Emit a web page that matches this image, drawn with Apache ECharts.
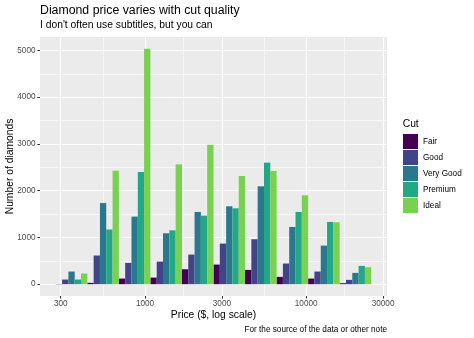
<!DOCTYPE html>
<html>
<head>
<meta charset="utf-8">
<script src="https://cdn.jsdelivr.net/npm/echarts@6/dist/echarts.min.js"></script>
<style>
html,body{margin:0;padding:0;background:#fff;}
#chart{width:474px;height:338px;}
</style>
</head>
<body>
<div id="chart"></div>
<script>
// Bin centres (log10 of price), one per histogram bin
var binCentersLog = [2.5444, 2.7401, 2.9358, 3.1315, 3.3272, 3.5230, 3.7187, 3.9144, 4.1101, 4.3058];
var cuts = ['Fair', 'Good', 'Very Good', 'Premium', 'Ideal'];
var fairCounts     = [5, 29, 121, 142, 320, 420, 306, 157, 121, 21];
var goodCounts     = [100, 614, 456, 484, 634, 869, 962, 442, 271, 93];
var veryGoodCounts = [271, 1736, 1446, 1090, 1546, 1667, 2094, 1225, 826, 242];
var premiumCounts  = [100, 1171, 2400, 1154, 1467, 1624, 2600, 1546, 1332, 392];
var idealCounts    = [229, 2429, 5036, 2564, 2984, 2315, 2422, 1902, 1325, 363];
var xTickPrices = [300, 1000, 3000, 10000, 30000];
var xMinorPrices = [547.7, 1732, 5477, 17320];
var yTicks = [0, 1000, 2000, 3000, 4000, 5000];
var yMinorTicks = [500, 1500, 2500, 3500, 4500];
var colors = ['#440154', '#414487', '#2A788E', '#22A884', '#7AD151'];

var allCounts = [fairCounts, goodCounts, veryGoodCounts, premiumCounts, idealCounts];
var FONT = '"Liberation Sans", Arial, Helvetica, sans-serif';
var xMin = 2.3486, xMax = 4.5016, yMin = -252, yMax = 5288;

var series = cuts.map(function (c, i) {
  return {
    name: c,
    type: 'bar',
    xAxisIndex: 0,
    yAxisIndex: 0,
    barGap: '0%',
    barCategoryGap: '0%',
    itemStyle: {color: colors[i]},
    data: binCentersLog.map(function (x, j) { return [x, allCounts[i][j]]; })
  };
});

var chart = echarts.init(document.getElementById('chart'), null, {renderer: 'canvas'});
chart.setOption({
  animation: false,
  backgroundColor: '#ffffff',
  textStyle: {fontFamily: FONT},
  title: [
    {text: 'Diamond price varies with cut quality', left: 40, top: 4.5, padding: 0,
     textStyle: {fontSize: 12.3, fontWeight: 'normal', color: '#000', fontFamily: FONT, lineHeight: 12.3}},
    {text: "I don't often use subtitles, but you can", left: 40, top: 20.5, padding: 0,
     textStyle: {fontSize: 10.3, fontWeight: 'normal', color: '#000', fontFamily: FONT, lineHeight: 10.3}},
    {text: 'For the source of the data or other note', right: 87, top: 325.5, padding: 0,
     textStyle: {fontSize: 8.2, fontWeight: 'normal', color: '#000', fontFamily: FONT, lineHeight: 8.2}},
    {text: 'Cut', left: 402.7, top: 119.5, padding: 0,
     textStyle: {fontSize: 10.3, fontWeight: 'normal', color: '#000', fontFamily: FONT, lineHeight: 10.3}}
  ],
  legend: {
    orient: 'vertical', left: 403, top: 134, padding: 0,
    itemWidth: 15, itemHeight: 15, itemGap: 1, icon: 'rect',
    selectedMode: false,
    data: cuts,
    textStyle: {fontSize: 8.2, color: '#000', fontFamily: FONT}
  },
  grid: {left: 40, right: 87, top: 37, bottom: 42, show: true, backgroundColor: '#EBEBEB', borderWidth: 0,
         containLabel: false, outerBoundsMode: 'none'},
  xAxis: [
    {
      type: 'value', min: xMin, max: xMax, position: 'bottom',
      name: 'Price ($, log scale)', nameLocation: 'middle', nameGap: 14.5, nameMoveOverlap: false,
      nameTextStyle: {fontSize: 10.3, color: '#000', fontFamily: FONT, verticalAlign: 'top', lineHeight: 10.3},
      axisLine: {show: false, onZero: false},
      axisTick: {show: true, length: 2.6, lineStyle: {color: '#333333', width: 1},
                 customValues: xTickPrices.map(function (p) { return Math.log10(p); })},
      axisLabel: {show: true, margin: 4, fontSize: 8.2, color: '#4D4D4D', fontFamily: FONT,
                  customValues: xTickPrices.map(function (p) { return Math.log10(p); }),
                  formatter: function (v) { return String(Math.round(Math.pow(10, v))); }},
      splitLine: {show: true, lineStyle: {color: '#FFFFFF', width: 1.2}}
    },
    {
      type: 'value', min: xMin, max: xMax, position: 'top',
      axisLine: {show: false, onZero: false},
      axisTick: {show: false, customValues: xMinorPrices.map(function (p) { return Math.log10(p); })},
      axisLabel: {show: false},
      splitLine: {show: true, lineStyle: {color: '#FFFFFF', width: 0.6}}
    }
  ],
  yAxis: [
    {
      type: 'value', min: yMin, max: yMax, position: 'left',
      name: 'Number of diamonds', nameLocation: 'middle', nameGap: 24.5, nameMoveOverlap: false,
      nameTextStyle: {fontSize: 10.3, color: '#000', fontFamily: FONT, lineHeight: 10.3},
      axisLine: {show: false, onZero: false},
      axisTick: {show: true, length: 2.6, lineStyle: {color: '#333333', width: 1}, customValues: yTicks},
      axisLabel: {show: true, margin: 4.5, fontSize: 8.2, color: '#4D4D4D', fontFamily: FONT, customValues: yTicks,
                  formatter: function (v) { return String(Math.round(v)); }},
      splitLine: {show: true, lineStyle: {color: '#FFFFFF', width: 1.2}}
    },
    {
      type: 'value', min: yMin, max: yMax, position: 'right',
      axisLine: {show: false, onZero: false},
      axisTick: {show: false, customValues: yMinorTicks},
      axisLabel: {show: false},
      splitLine: {show: true, lineStyle: {color: '#FFFFFF', width: 0.6}}
    }
  ],
  series: series
});
</script>
</body>
</html>
